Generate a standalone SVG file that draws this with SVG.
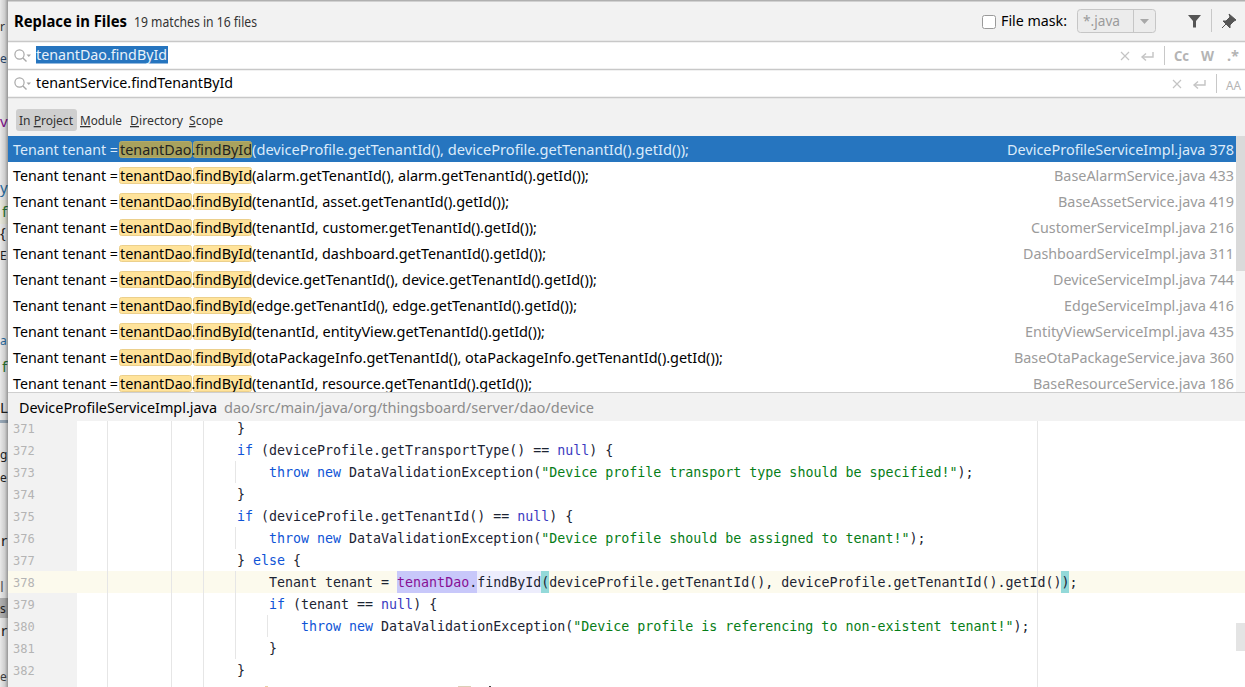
<svg xmlns="http://www.w3.org/2000/svg" width="1245" height="687" viewBox="0 0 1245 687">
<style>
text{font-family:"Noto Sans","Open Sans","Liberation Sans",sans-serif;font-size:14px;fill:#000;white-space:pre}
.m{font-family:"DejaVu Sans Mono","Liberation Mono",monospace;font-size:13.3px;fill:#1c2433}
.k{fill:#0f54d6}.n{fill:#3a3ac0}.s{fill:#067d17}.f{fill:#871094}
.ln{font-family:"DejaVu Sans Mono","Liberation Mono",monospace;font-size:12px;fill:#b4b4b4}
.fn{fill:#9b9b9b}.sel{fill:#dcebfa}
.hl{fill:#ffe39a;stroke:#ecd08c;stroke-width:1}
.hs{fill:#a9a25d;stroke:#b5ab68;stroke-width:1}
.sep{stroke:#c8c8c8;stroke-width:1.4;fill:none}
.g{stroke:#e6e6e6;stroke-width:1;fill:none}
.ic{stroke:#c4c4c4;stroke-width:1.2;fill:none}
.bg{font-size:15px;fill:#222}
.t{font-weight:bold;fill:#b4b4b4;font-size:14px}
</style>
<defs>
<linearGradient id="shadow" x1="0" x2="1" y1="0" y2="0"><stop offset="0" stop-color="#000" stop-opacity="0.04"/><stop offset="0.6" stop-color="#000" stop-opacity="0.15"/><stop offset="1" stop-color="#000" stop-opacity="0.38"/></linearGradient>
<clipPath id="leftClip"><rect x="0" y="0" width="8" height="687"/></clipPath>
<g id="magnifier"><circle cx="0" cy="0" r="4.6" fill="none" stroke="#a8a8a8" stroke-width="1.2"/><path d="M3.4 3.4L7 7" stroke="#a8a8a8" stroke-width="1.4"/><path d="M7 0h4.5l-2.2 2.4z" fill="#a8a8a8"/></g>
<g id="wrap"><path d="M12 0v5H2" fill="none" stroke="#c4c4c4" stroke-width="1.4"/><path d="M5 1.5L1 5l4 3.5" fill="none" stroke="#c4c4c4" stroke-width="1.4"/></g>
</defs>

<rect width="1245" height="687" fill="#fff"/>

<g id="background-strip">
<rect x="0" y="0" width="8" height="687" fill="#f2f2f2"/>
<rect x="0" y="200" width="8" height="24" fill="#f2f2e4"/>
<rect x="0" y="598" width="8" height="20" fill="#b8b8b8"/>
<rect x="0" y="420" width="8" height="3" fill="#9fb0c0"/>
<g clip-path="url(#leftClip)">
<text class="bg" x="0" y="31" style="fill:#333;font-size:12px">r</text>
<text class="bg" x="0" y="63" style="fill:#2c4a70;font-size:12px">e</text>
<text class="bg" x="0" y="127" style="fill:#871094">v</text>
<text class="bg" x="0" y="193" style="fill:#2a70a8">y</text>
<text class="bg" x="2" y="217" style="fill:#2c7a30">f</text>
<text class="bg" x="0" y="238" style="fill:#222">{</text>
<text class="bg" x="0" y="260" style="fill:#222;font-size:12px">E</text>
<text class="bg" x="0" y="345" style="fill:#2a70a8;font-size:12px">a</text>
<text class="bg" x="2" y="372" style="fill:#2c7a30">f</text>
<text class="bg" x="0" y="413">L</text>
<text class="bg" x="0" y="459" style="font-size:12px">g</text>
<text class="bg" x="0" y="482" style="font-size:12px">e</text>
<text class="bg" x="1" y="546">r</text>
<text class="bg" x="0" y="592" style="fill:#666">l</text>
<text class="bg" x="0" y="613" style="font-size:12px">s</text>
<text class="bg" x="1" y="636">r</text>
<text class="bg" x="0" y="681" style="fill:#444;font-size:12px">e</text>
</g>
<rect x="0" y="0" width="8" height="687" fill="url(#shadow)"/>
</g>

<g id="editor">
<rect x="8" y="421" width="69" height="266" fill="#f2f2f2"/>
<rect x="77" y="421" width="1168" height="266" fill="#fff"/>
<rect x="8" y="571" width="1237" height="22" fill="#fcfaed"/>
<rect x="1236" y="623" width="9" height="28" fill="#e4e4e4"/>
<path class="g" d="M107.500 421V687M171.500 421V687M203.500 421V687M1037.500 421V687M235.500 461V483M235.500 527V549M235.500 571V659M267.500 615V637"/>
<rect x="397" y="571" width="80" height="22" fill="#c8c8fa"/>
<rect x="477" y="571" width="64" height="22" fill="#ededfc"/>
<rect x="541" y="571" width="8" height="22" fill="#93d9d9"/>
<rect x="1061" y="571" width="8" height="22" fill="#93d9d9"/>
<g>
<text class="ln" x="13" y="433">371</text>
<text class="ln" x="13" y="455">372</text>
<text class="ln" x="13" y="477">373</text>
<text class="ln" x="13" y="499">374</text>
<text class="ln" x="13" y="521">375</text>
<text class="ln" x="13" y="543">376</text>
<text class="ln" x="13" y="565">377</text>
<text class="ln" x="13" y="587">378</text>
<text class="ln" x="13" y="609">379</text>
<text class="ln" x="13" y="631">380</text>
<text class="ln" x="13" y="653">381</text>
<text class="ln" x="13" y="675">382</text>
</g>
<g>
<text class="m" x="237" y="433">}</text>
<text class="m" x="237" y="455"><tspan class="k">if</tspan> (deviceProfile.getTransportType() == <tspan class="n">null</tspan>) {</text>
<text class="m" x="269" y="477"><tspan class="k">throw new</tspan> DataValidationException(<tspan class="s">"Device profile transport type should be specified!"</tspan>);</text>
<text class="m" x="237" y="499">}</text>
<text class="m" x="237" y="521"><tspan class="k">if</tspan> (deviceProfile.getTenantId() == <tspan class="n">null</tspan>) {</text>
<text class="m" x="269" y="543"><tspan class="k">throw new</tspan> DataValidationException(<tspan class="s">"Device profile should be assigned to tenant!"</tspan>);</text>
<text class="m" x="237" y="565">} <tspan class="k">else</tspan> {</text>
<text class="m" x="269" y="587">Tenant tenant = <tspan class="f">tenantDao</tspan>.findById(deviceProfile.getTenantId(), deviceProfile.getTenantId().getId());</text>
<text class="m" x="269" y="609"><tspan class="k">if</tspan> (tenant == <tspan class="n">null</tspan>) {</text>
<text class="m" x="301" y="631"><tspan class="k">throw new</tspan> DataValidationException(<tspan class="s">"Device profile is referencing to non-existent tenant!"</tspan>);</text>
<text class="m" x="269" y="653">}</text>
<text class="m" x="237" y="675">}</text>
</g>
<rect x="265" y="686" width="3" height="1" fill="#e8d2a8"/>
<rect x="458" y="686" width="13" height="1" fill="#dccfb8"/>
<rect x="489" y="686" width="2" height="1" fill="#444"/>
</g>

<g id="popup">
<rect x="8" y="0" width="1237" height="421" fill="#f2f2f2"/>
<rect x="8" y="0" width="1237" height="1.500" fill="#b0b0b0"/>

<g id="title-bar">
<text x="14" y="27" textLength="113" lengthAdjust="spacingAndGlyphs" style="font-weight:bold;font-size:16px">Replace in Files</text>
<text x="134" y="27" textLength="123" lengthAdjust="spacingAndGlyphs" style="font-size:14px;fill:#333">19 matches in 16 files</text>
<rect x="982.500" y="15.500" width="13" height="13" rx="2" fill="#fff" stroke="#9a9a9a"/>
<text x="1001" y="26" textLength="66" lengthAdjust="spacingAndGlyphs" style="font-size:15px">File mask:</text>
<rect x="1077.500" y="9.500" width="78" height="23" rx="3" fill="#ececec" stroke="#c6c6c6"/>
<path d="M1133.500 10V32" stroke="#c6c6c6"/>
<text x="1083" y="26" textLength="37" lengthAdjust="spacingAndGlyphs" style="fill:#9b9b9b">*.java</text>
<path d="M1140 19h9l-4.500 5z" fill="#a8a8a8"/>
<path d="M1188 15h13l-5 6v6.500h-3V21z" fill="#555"/>
<path d="M1211.500 9V32" stroke="#c8c8c8"/>
<path d="M1229 14l7 6-2 1-4 4 0 3-7-7 3 0 4-4z M1226 24l-4 4" fill="#555" stroke="#555"/>
</g>

<g id="search-field">
<rect x="8" y="42" width="1237" height="27" fill="#fff"/>
<use href="#magnifier" x="19.500" y="54.500"/>
<rect x="36" y="46" width="132" height="17.500" fill="#2675bf"/>
<text x="36" y="60" textLength="131" lengthAdjust="spacingAndGlyphs" style="fill:#e8f1fa;font-size:15px">tenantDao.findById</text>
<path class="ic" d="M1121 52l8 8M1129 52l-8 8"/>
<use href="#wrap" x="1141" y="52"/>
<path d="M1164.500 46V65" stroke="#c8c8c8"/>
<text class="t" x="1174" y="61" textLength="15" lengthAdjust="spacingAndGlyphs">Cc</text>
<text class="t" x="1201" y="61" textLength="13" lengthAdjust="spacingAndGlyphs">W</text>
<text class="t" x="1227" y="61" textLength="12" lengthAdjust="spacingAndGlyphs">.*</text>
</g>

<g id="replace-field">
<rect x="8" y="70" width="1237" height="27" fill="#fff"/>
<use href="#magnifier" x="19.500" y="82.500"/>
<text x="36" y="88" textLength="197" lengthAdjust="spacingAndGlyphs" style="font-size:15px">tenantService.findTenantById</text>
<path class="ic" d="M1173 80l8 8M1181 80l-8 8"/>
<use href="#wrap" x="1193" y="80"/>
<path d="M1216.500 74V93" stroke="#c8c8c8"/>
<text class="t" x="1226" y="90" textLength="15" lengthAdjust="spacingAndGlyphs" style="font-size:13px;font-weight:normal">AA</text>
</g>
<path class="sep" d="M8 41.500H1245M8 69.500H1245M8 97.500H1245"/>

<g id="scope-tabs">
<rect x="16" y="109" width="61" height="22" rx="3" fill="#cfcfcf"/>
<text x="19" y="125" textLength="54" lengthAdjust="spacingAndGlyphs" style="font-size:13px;fill:#333">In <tspan text-decoration="underline">P</tspan>roject</text>
<text x="80" y="125" textLength="42" lengthAdjust="spacingAndGlyphs" style="font-size:13px;fill:#333"><tspan text-decoration="underline">M</tspan>odule</text>
<text x="130" y="125" textLength="53" lengthAdjust="spacingAndGlyphs" style="font-size:13px;fill:#333"><tspan text-decoration="underline">D</tspan>irectory</text>
<text x="189" y="125" textLength="34" lengthAdjust="spacingAndGlyphs" style="font-size:13px;fill:#333"><tspan text-decoration="underline">S</tspan>cope</text>
</g>

<g id="results">
<rect x="8" y="136" width="1237" height="256" fill="#fff"/>
<rect x="1236" y="136" width="9" height="256" fill="#f5f5f5"/>
<rect x="1236" y="136" width="9" height="135" fill="#dadada"/>
<rect x="8" y="136" width="1228" height="26" fill="#2675bf"/>

<rect class="hs" x="119.500" y="141.500" width="72" height="16" rx="2"/><rect class="hs" x="193.500" y="141.500" width="58" height="16" rx="2"/>
<rect class="hl" x="119.500" y="167.500" width="72" height="16" rx="2"/><rect class="hl" x="193.500" y="167.500" width="58" height="16" rx="2"/>
<rect class="hl" x="119.500" y="193.500" width="72" height="16" rx="2"/><rect class="hl" x="193.500" y="193.500" width="58" height="16" rx="2"/>
<rect class="hl" x="119.500" y="219.500" width="72" height="16" rx="2"/><rect class="hl" x="193.500" y="219.500" width="58" height="16" rx="2"/>
<rect class="hl" x="119.500" y="245.500" width="72" height="16" rx="2"/><rect class="hl" x="193.500" y="245.500" width="58" height="16" rx="2"/>
<rect class="hl" x="119.500" y="271.500" width="72" height="16" rx="2"/><rect class="hl" x="193.500" y="271.500" width="58" height="16" rx="2"/>
<rect class="hl" x="119.500" y="297.500" width="72" height="16" rx="2"/><rect class="hl" x="193.500" y="297.500" width="58" height="16" rx="2"/>
<rect class="hl" x="119.500" y="323.500" width="72" height="16" rx="2"/><rect class="hl" x="193.500" y="323.500" width="58" height="16" rx="2"/>
<rect class="hl" x="119.500" y="349.500" width="72" height="16" rx="2"/><rect class="hl" x="193.500" y="349.500" width="58" height="16" rx="2"/>
<rect class="hl" x="119.500" y="375.500" width="72" height="16" rx="2"/><rect class="hl" x="193.500" y="375.500" width="58" height="16" rx="2"/>

<text class="sel" x="13" y="155" textLength="105" lengthAdjust="spacingAndGlyphs">Tenant tenant =</text>
<text x="120" y="155" textLength="132" lengthAdjust="spacingAndGlyphs" style="fill:#222">tenantDao.findById</text>
<text class="sel" x="252" y="155" textLength="437" lengthAdjust="spacingAndGlyphs">(deviceProfile.getTenantId(), deviceProfile.getTenantId().getId());</text>
<text class="sel" x="1007" y="155" textLength="227" lengthAdjust="spacingAndGlyphs">DeviceProfileServiceImpl.java 378</text>

<text x="13" y="181" textLength="105" lengthAdjust="spacingAndGlyphs">Tenant tenant =</text>
<text x="120" y="181" textLength="132" lengthAdjust="spacingAndGlyphs">tenantDao.findById</text>
<text x="252" y="181" textLength="337" lengthAdjust="spacingAndGlyphs">(alarm.getTenantId(), alarm.getTenantId().getId());</text>
<text class="fn" x="1054" y="181" textLength="180" lengthAdjust="spacingAndGlyphs">BaseAlarmService.java 433</text>

<text x="13" y="207" textLength="105" lengthAdjust="spacingAndGlyphs">Tenant tenant =</text>
<text x="120" y="207" textLength="132" lengthAdjust="spacingAndGlyphs">tenantDao.findById</text>
<text x="252" y="207" textLength="257" lengthAdjust="spacingAndGlyphs">(tenantId, asset.getTenantId().getId());</text>
<text class="fn" x="1058" y="207" textLength="176" lengthAdjust="spacingAndGlyphs">BaseAssetService.java 419</text>

<text x="13" y="233" textLength="105" lengthAdjust="spacingAndGlyphs">Tenant tenant =</text>
<text x="120" y="233" textLength="132" lengthAdjust="spacingAndGlyphs">tenantDao.findById</text>
<text x="252" y="233" textLength="285" lengthAdjust="spacingAndGlyphs">(tenantId, customer.getTenantId().getId());</text>
<text class="fn" x="1031" y="233" textLength="203" lengthAdjust="spacingAndGlyphs">CustomerServiceImpl.java 216</text>

<text x="13" y="259" textLength="105" lengthAdjust="spacingAndGlyphs">Tenant tenant =</text>
<text x="120" y="259" textLength="132" lengthAdjust="spacingAndGlyphs">tenantDao.findById</text>
<text x="252" y="259" textLength="294" lengthAdjust="spacingAndGlyphs">(tenantId, dashboard.getTenantId().getId());</text>
<text class="fn" x="1023" y="259" textLength="211" lengthAdjust="spacingAndGlyphs">DashboardServiceImpl.java 311</text>

<text x="13" y="285" textLength="105" lengthAdjust="spacingAndGlyphs">Tenant tenant =</text>
<text x="120" y="285" textLength="132" lengthAdjust="spacingAndGlyphs">tenantDao.findById</text>
<text x="252" y="285" textLength="345" lengthAdjust="spacingAndGlyphs">(device.getTenantId(), device.getTenantId().getId());</text>
<text class="fn" x="1053" y="285" textLength="181" lengthAdjust="spacingAndGlyphs">DeviceServiceImpl.java 744</text>

<text x="13" y="311" textLength="105" lengthAdjust="spacingAndGlyphs">Tenant tenant =</text>
<text x="120" y="311" textLength="132" lengthAdjust="spacingAndGlyphs">tenantDao.findById</text>
<text x="252" y="311" textLength="325" lengthAdjust="spacingAndGlyphs">(edge.getTenantId(), edge.getTenantId().getId());</text>
<text class="fn" x="1064" y="311" textLength="170" lengthAdjust="spacingAndGlyphs">EdgeServiceImpl.java 416</text>

<text x="13" y="337" textLength="105" lengthAdjust="spacingAndGlyphs">Tenant tenant =</text>
<text x="120" y="337" textLength="132" lengthAdjust="spacingAndGlyphs">tenantDao.findById</text>
<text x="252" y="337" textLength="293" lengthAdjust="spacingAndGlyphs">(tenantId, entityView.getTenantId().getId());</text>
<text class="fn" x="1025" y="337" textLength="209" lengthAdjust="spacingAndGlyphs">EntityViewServiceImpl.java 435</text>

<text x="13" y="363" textLength="105" lengthAdjust="spacingAndGlyphs">Tenant tenant =</text>
<text x="120" y="363" textLength="132" lengthAdjust="spacingAndGlyphs">tenantDao.findById</text>
<text x="252" y="363" textLength="471" lengthAdjust="spacingAndGlyphs">(otaPackageInfo.getTenantId(), otaPackageInfo.getTenantId().getId());</text>
<text class="fn" x="1014" y="363" textLength="220" lengthAdjust="spacingAndGlyphs">BaseOtaPackageService.java 360</text>

<text x="13" y="389" textLength="105" lengthAdjust="spacingAndGlyphs">Tenant tenant =</text>
<text x="120" y="389" textLength="132" lengthAdjust="spacingAndGlyphs">tenantDao.findById</text>
<text x="252" y="389" textLength="280" lengthAdjust="spacingAndGlyphs">(tenantId, resource.getTenantId().getId());</text>
<text class="fn" x="1033" y="389" textLength="201" lengthAdjust="spacingAndGlyphs">BaseResourceService.java 186</text>
</g>

<g id="file-header">
<rect x="8" y="392" width="1237" height="29" fill="#f2f2f2"/>
<path d="M8 392.500H1245" stroke="#cfcfcf"/>
<text x="19" y="413" textLength="198" lengthAdjust="spacingAndGlyphs" style="font-size:15px">DeviceProfileServiceImpl.java</text>
<text x="224" y="413" textLength="370" lengthAdjust="spacingAndGlyphs" style="fill:#8c8c8c;font-size:15px">dao/src/main/java/org/thingsboard/server/dao/device</text>
</g>
</g>
</svg>
